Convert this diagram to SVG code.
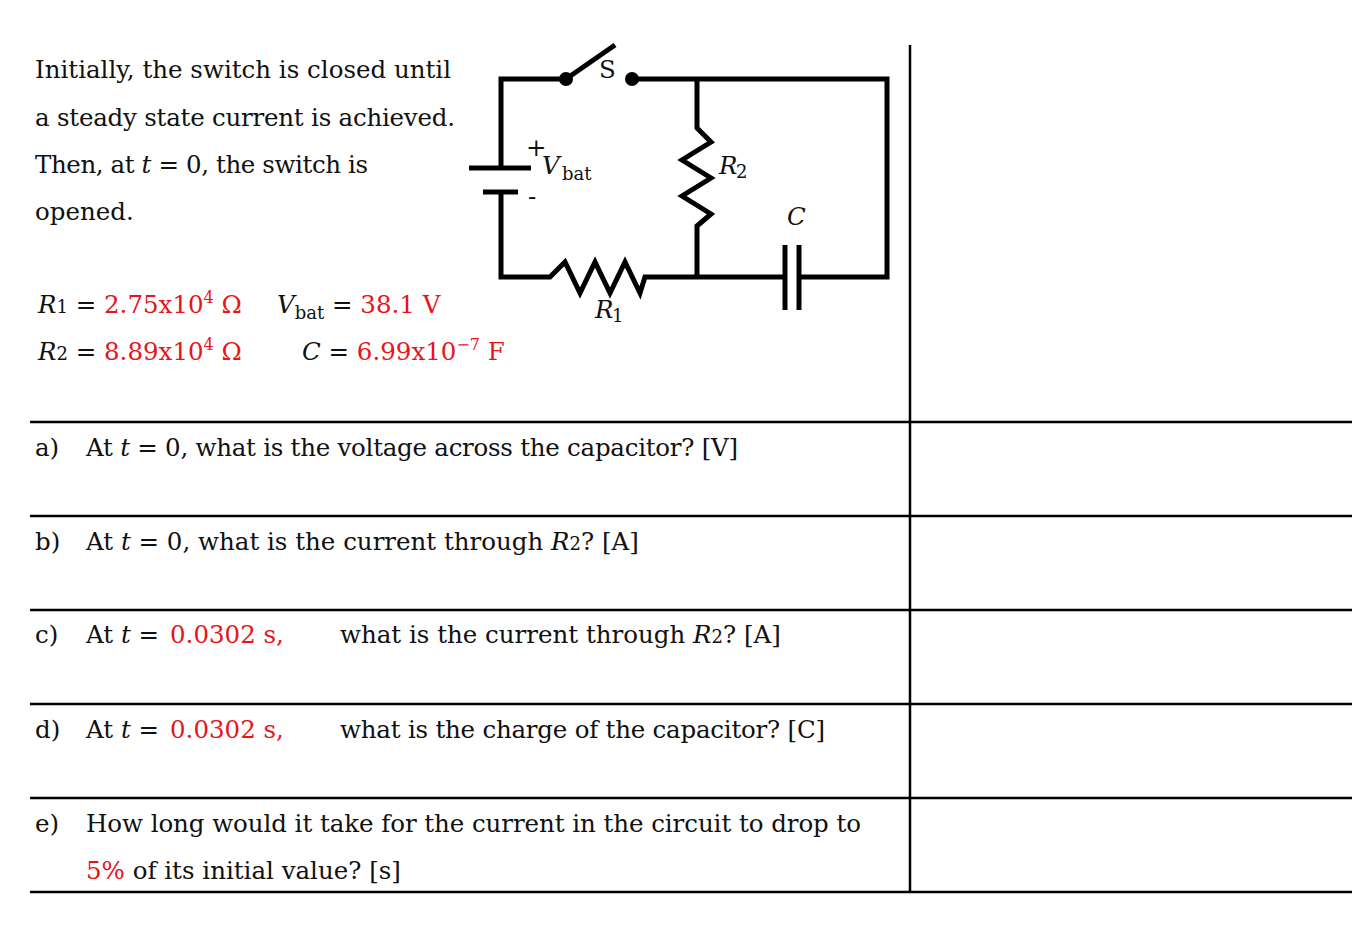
<svg xmlns="http://www.w3.org/2000/svg" width="1372" height="943" viewBox="0 0 1372 943">
<style>
text{font-family:"DejaVu Serif","Liberation Serif",serif;font-size:24.5px;fill:#111}
.r{fill:#e8141a}
.i{font-style:italic}
.w{fill:none;stroke:#000;stroke-width:5;stroke-linejoin:miter}
.t{stroke:#000;stroke-width:2.5}
.s{font-size:18px}
</style>
<rect width="1372" height="943" fill="#fff"/>
<g id="grid">
<line class="t" x1="910" y1="45" x2="910" y2="892"/>
<line class="t" x1="30" y1="422" x2="1352" y2="422"/>
<line class="t" x1="30" y1="516" x2="1352" y2="516"/>
<line class="t" x1="30" y1="610" x2="1352" y2="610"/>
<line class="t" x1="30" y1="704" x2="1352" y2="704"/>
<line class="t" x1="30" y1="798" x2="1352" y2="798"/>
<line class="t" x1="30" y1="892" x2="1352" y2="892"/>
</g>
<g id="intro">
<text x="35" y="78" textLength="416">Initially, the switch is closed until</text>
<text x="35" y="126" textLength="420">a steady state current is achieved.</text>
<text x="35" y="173" textLength="333">Then, at <tspan class="i">t</tspan> = 0, the switch is</text>
<text x="35" y="220">opened.</text>
<text x="38" y="313"><tspan class="i">R</tspan><tspan class="s">1</tspan> = <tspan class="r">2.75x10<tspan font-size="16" dy="-10">4</tspan><tspan dy="10"> Ω</tspan></tspan></text>
<text x="38" y="360"><tspan class="i">R</tspan><tspan class="s">2</tspan> = <tspan class="r">8.89x10<tspan font-size="16" dy="-10">4</tspan><tspan dy="10"> Ω</tspan></tspan></text>
<text x="277" y="313"><tspan class="i">V</tspan><tspan class="s" dy="6">bat</tspan><tspan dy="-6"> = </tspan><tspan class="r">38.1 V</tspan></text>
<text x="302" y="360"><tspan class="i">C</tspan> = <tspan class="r">6.99x10<tspan font-size="16" dy="-10">−7</tspan><tspan dy="10"> F</tspan></tspan></text>
</g>
<g id="circuit">
<polyline class="w" points="501,168 501,79 566,79"/>
<line class="w" x1="566" y1="79" x2="615" y2="45"/>
<circle cx="566" cy="79" r="7"/>
<circle cx="632" cy="79" r="7"/>
<polyline class="w" points="632,79 887,79 887,277 799,277"/>
<polyline class="w" points="697,79 697,128 711,142 682,160 711,178 682,196 711,214 697,226 697,277"/>
<polyline class="w" points="501,192 501,277 550,277 565,262 580,293 595,262 610,293 625,262 640,293 645,277 697,277 785,277"/>
<line class="w" x1="469" y1="168" x2="531" y2="168"/>
<line class="w" x1="483" y1="192" x2="518" y2="192"/>
<line class="w" x1="785" y1="245" x2="785" y2="310"/>
<line class="w" x1="799" y1="245" x2="799" y2="310"/>
<text x="526" y="156" font-size="13">+</text>
<text x="528" y="205" font-size="16">-</text>
<text x="542" y="174" class="i">V</text><text x="562" y="180" class="s">bat</text>
<text x="719" y="174" class="i">R</text><text x="736" y="178" class="s">2</text>
<text x="787" y="225" class="i">C</text>
<text x="595" y="318" class="i">R</text><text x="612" y="322" class="s">1</text>
<text x="599" y="78">S</text>
</g>
<g id="questions">
<text x="35" y="456">a)</text><text x="86" y="456" textLength="652">At <tspan class="i">t</tspan> = 0, what is the voltage across the capacitor? [V]</text>
<text x="35" y="550">b)</text><text x="86" y="550">At <tspan class="i">t</tspan> = 0, what is the current through <tspan class="i">R</tspan><tspan class="s">2</tspan>? [A]</text>
<text x="35" y="643">c)</text><text x="86" y="643">At <tspan class="i">t</tspan> = </text><text x="170" y="643" class="r">0.0302 s,</text><text x="340" y="643">what is the current through <tspan class="i">R</tspan><tspan class="s">2</tspan>? [A]</text>
<text x="35" y="738">d)</text><text x="86" y="738">At <tspan class="i">t</tspan> = </text><text x="170" y="738" class="r">0.0302 s,</text><text x="340" y="738" textLength="485">what is the charge of the capacitor? [C]</text>
<text x="35" y="832">e)</text><text x="86" y="832" textLength="775">How long would it take for the current in the circuit to drop to</text>
<text x="86" y="879"><tspan class="r">5%</tspan> of its initial value? [s]</text>
</g>
</svg>
